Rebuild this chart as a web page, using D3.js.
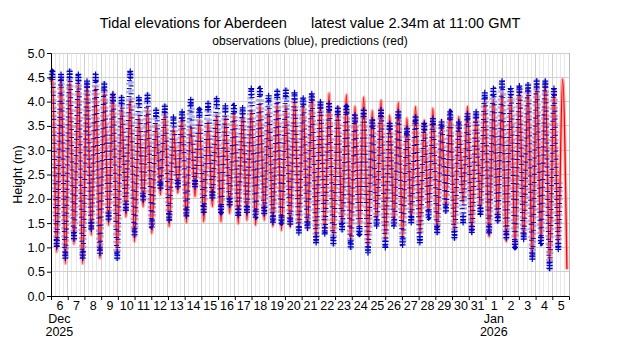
<!DOCTYPE html>
<html lang="en">
<head>
<meta charset="UTF-8">
<title>Tidal elevations for Aberdeen</title>
<script src="https://d3js.org/d3.v7.min.js"></script>
<style>
    body { margin: 0; background: #fff; }
    svg { display: block; font-family: "Liberation Sans", Arial, sans-serif; }
</style>
</head>
<body>
<div id="chart"></div>
<script>
// time window (UTC)
const startDate = "2025-12-06T00:00:00Z";
const endDate = "2026-01-06T00:00:00Z";

// hours after startDate of each high and low water
const highHours = [2.0, 14.4, 26.8, 39.3, 51.7, 64.1, 76.5, 88.9, 101.4, 113.8, 126.2, 138.6, 151.0, 163.5, 175.9, 188.3, 200.7, 213.1, 225.6, 238.0,
    250.4, 262.8, 275.2, 287.7, 300.1, 312.5, 324.9, 337.3, 349.8, 362.2, 374.6, 387.0, 399.4, 411.9, 424.3, 436.7, 449.1, 461.5, 474.0, 486.4,
    498.8, 511.2, 523.6, 536.1, 548.5, 560.9, 573.3, 585.7, 598.2, 610.6, 623.0, 635.4, 647.8, 660.3, 672.7, 685.1, 697.5, 709.9, 722.4, 734.8];
const lowHours = [8.2, 20.6, 33.0, 45.5, 57.9, 70.3, 82.7, 95.1, 107.6, 120.0, 132.4, 144.8, 157.2, 169.7, 182.1, 194.5, 206.9, 219.3, 231.8, 244.2,
    256.6, 269.0, 281.4, 293.9, 306.3, 318.7, 331.1, 343.5, 356.0, 368.4, 380.8, 393.2, 405.6, 418.1, 430.5, 442.9, 455.3, 467.7, 480.2, 492.6,
    505.0, 517.4, 529.8, 542.3, 554.7, 567.1, 579.5, 591.9, 604.4, 616.8, 629.2, 641.6, 654.0, 666.5, 678.9, 691.3, 703.7, 716.1, 728.6, 741.0];

// predictions (red), metres
const predStart = 4.40;
const predHigh = [4.55, 4.46, 4.46, 4.39, 4.38, 4.31, 4.25, 4.20, 3.90, 4.05, 3.70, 3.86, 3.55, 3.77, 3.47, 3.68, 3.50, 3.62, 3.59, 3.72,
    3.69, 3.77, 3.76, 3.83, 3.96, 3.86, 3.98, 3.93, 4.05, 3.96, 4.14, 4.00, 4.17, 3.90, 4.14, 3.90, 4.09, 3.81, 4.03, 3.72,
    3.98, 3.66, 3.90, 3.62, 3.86, 3.62, 3.84, 3.69, 3.90, 3.78, 4.02, 4.05, 4.17, 4.14, 4.31, 4.27, 4.38, 4.44, 4.25, 4.46];
const predLow = [0.91, 0.67, 1.07, 0.67, 1.26, 0.78, 1.46, 0.90, 1.63, 1.12, 1.84, 1.29, 2.08, 1.43, 2.12, 1.51, 2.05, 1.53, 1.84, 1.53,
    1.70, 1.49, 1.56, 1.46, 1.56, 1.43, 1.35, 1.41, 1.39, 1.36, 1.18, 1.32, 1.19, 1.45, 1.12, 1.39, 1.01, 1.50, 1.15, 1.46,
    1.22, 1.56, 1.26, 1.67, 1.32, 1.80, 1.32, 1.91, 1.29, 1.73, 1.22, 1.53, 1.12, 1.00, 1.18, 0.82, 1.12, 0.68, 1.05, 0.55];

// observations (blue), metres
const obsStart = 4.45;
const obsHigh = [4.62, 4.56, 4.62, 4.56, 4.42, 4.56, 4.36, 4.15, 4.08, 4.62, 4.08, 4.13, 3.82, 3.90, 3.68, 3.79, 4.04, 3.84, 3.96, 4.06,
    3.91, 3.92, 3.87, 4.27, 4.27, 4.12, 4.21, 4.23, 4.18, 4.07, 4.16, 3.99, 3.96, 3.86, 3.90, 3.72, 3.82, 3.62, 3.82, 3.55,
    3.79, 3.44, 3.68, 3.55, 3.65, 3.58, 3.79, 3.58, 3.75, 3.79, 4.18, 4.27, 4.42, 4.27, 4.32, 4.34, 4.42, 4.42, 4.27];
const obsLow = [1.02, 0.78, 1.18, 0.78, 1.38, 0.88, 1.58, 0.78, 1.76, 1.26, 1.98, 1.42, 2.22, 1.56, 2.25, 1.65, 2.25, 1.72, 2.02, 1.72,
    1.88, 1.66, 1.72, 1.62, 1.70, 1.52, 1.50, 1.48, 1.30, 1.40, 1.10, 1.28, 1.08, 1.37, 1.01, 1.27, 0.89, 1.44, 1.00, 1.44,
    1.05, 1.51, 1.10, 1.61, 1.31, 1.75, 1.20, 1.51, 1.31, 1.68, 1.30, 1.55, 1.20, 1.00, 1.17, 0.76, 1.08, 0.57, 0.96];
const latestHour = 731;
const latestValue = 2.34;

const yTicks = [0, 0.5, 1, 1.5, 2, 2.5, 3, 3.5, 4, 4.5, 5];

const width = 620, height = 350;
const t0 = new Date(startDate), t1 = new Date(endDate);
const at = h => new Date(t0.getTime() + h * 3600e3);

function series(first, highs, lows) {
    const pts = [{t: at(0), v: first}];
    highs.forEach((v, i) => pts.push({t: at(highHours[i]), v, kind: "high"}));
    lows.forEach((v, i) => pts.push({t: at(lowHours[i]), v, kind: "low"}));
    return pts.sort((a, b) => a.t - b.t);
}
const pred = series(predStart, predHigh, predLow);
const obs = series(obsStart, obsHigh, obsLow);
obs.push({t: at(latestHour), v: latestValue});

const x = d3.scaleUtc().domain([t0, t1]).range([51, 569]);
const y = d3.scaleLinear().domain([0, 5]).range([296, 53]);

const svg = d3.select("#chart").append("svg")
    .attr("width", width).attr("height", height);

// grid
const grid = svg.append("g");
grid.selectAll(".vminor")
    .data(d3.utcHour.every(6).range(t0, t1))
    .join("line")
    .attr("x1", d => x(d)).attr("x2", d => x(d))
    .attr("y1", y(0)).attr("y2", y(5))
    .attr("stroke", d => d.getUTCHours() === 0 ? "#cfcfcf" : "#e8e8e8")
    .attr("stroke-width", 1)
    .attr("shape-rendering", "crispEdges");
grid.selectAll(".hline")
    .data(yTicks)
    .join("line")
    .attr("x1", x(t0)).attr("x2", x(t1))
    .attr("y1", d => y(d)).attr("y2", d => y(d))
    .attr("stroke", "#d0d0d0")
    .attr("shape-rendering", "crispEdges");
grid.append("line")
    .attr("x1", x(t1)).attr("x2", x(t1)).attr("y1", y(0)).attr("y2", y(5))
    .attr("stroke", "#bbb").attr("shape-rendering", "crispEdges");

const line = d3.line()
    .x(d => x(d.t))
    .y(d => y(d.v))
    .curve(d3.curveMonotoneX);

// prediction band
svg.append("path").datum(pred)
    .attr("fill", "none")
    .attr("stroke", "#ff6a6a")
    .attr("stroke-opacity", 0.5)
    .attr("stroke-width", 3.5)
    .attr("d", line);

// observation halo dashes
svg.append("path").datum(obs)
    .attr("fill", "none")
    .attr("stroke", "#6a6ad8")
    .attr("stroke-opacity", 0.5)
    .attr("stroke-width", 6)
    .attr("stroke-dasharray", "2.4,5.6")
    .attr("stroke-dashoffset", 4)
    .attr("d", line);

// prediction line
svg.append("path").datum(pred)
    .attr("fill", "none")
    .attr("stroke", "#f00")
    .attr("stroke-width", 1.3)
    .attr("d", line);

// observation "+" dashes
svg.append("path").datum(obs)
    .attr("fill", "none")
    .attr("stroke", "#0000c8")
    .attr("stroke-width", 5)
    .attr("stroke-dasharray", "1,7")
    .attr("d", line);

// clusters of + at high and low water
const plusHigh = "M-3,0h6M-3,3h6M-3,6h6M0,-3v12";
const plusLow = "M-3,0h6M-3,-3h6M-3,-6h6M0,3v-12";
svg.append("g")
    .attr("stroke", "#0000c8")
    .attr("stroke-width", 1.2)
    .attr("fill", "none")
    .selectAll("path")
    .data(obs.filter(d => d.kind))
    .join("path")
    .attr("transform", d => `translate(${x(d.t)},${y(d.v)})`)
    .attr("d", d => d.kind === "high" ? plusHigh : plusLow);

// axes
const yAxis = svg.append("g")
    .attr("transform", `translate(${x(t0)},0)`)
    .call(d3.axisLeft(y).tickValues(yTicks).tickFormat(d3.format(".1f")).tickSize(4).tickPadding(2));
yAxis.selectAll("text").attr("font-size", 12.5).attr("fill", "#000").attr("font-family", "Liberation Sans, Arial, sans-serif");

const xTicks = svg.append("g")
    .attr("transform", `translate(0,${y(0)})`)
    .call(d3.axisBottom(x).tickValues(d3.utcDay.range(t0, t1)).tickSize(4).tickFormat(""));

const noons = d3.utcDay.range(t0, t1).map(d => d3.utcHour.offset(d, 12));
const xLabels = svg.append("g")
    .attr("transform", `translate(0,${y(0)})`)
    .call(d3.axisBottom(x).tickValues(noons).tickSize(0).tickPadding(5).tickFormat(d3.utcFormat("%-d")));
xLabels.select(".domain").remove();
xLabels.selectAll("text").attr("font-size", 12.5).attr("fill", "#000").attr("font-family", "Liberation Sans, Arial, sans-serif");

// month / year under the first day of each month shown
const monthStarts = noons.filter((d, i) => i === 0 || d.getUTCDate() === 1);
const my = svg.append("g").attr("font-size", 12.5).attr("text-anchor", "middle");
my.selectAll(".mon").data(monthStarts).join("text")
    .attr("x", d => x(d)).attr("y", 323)
    .text(d3.utcFormat("%b"));
my.selectAll(".yr").data(monthStarts).join("text")
    .attr("x", d => x(d)).attr("y", 336)
    .text(d3.utcFormat("%Y"));

// titles
svg.append("text")
    .attr("x", 310).attr("y", 28)
    .attr("text-anchor", "middle")
    .attr("font-size", 14.5)
    .attr("xml:space", "preserve")
    .style("white-space", "pre")
    .text(`Tidal elevations for Aberdeen      latest value ${latestValue.toFixed(2)}m at 11:00 GMT`);
svg.append("text")
    .attr("x", 310).attr("y", 45)
    .attr("text-anchor", "middle")
    .attr("font-size", 12)
    .text("observations (blue), predictions (red)");
svg.append("text")
    .attr("transform", `translate(22,${(y(0) + y(5)) / 2}) rotate(-90)`)
    .attr("text-anchor", "middle")
    .attr("font-size", 12.5)
    .text("Height (m)");
</script>
</body>
</html>
